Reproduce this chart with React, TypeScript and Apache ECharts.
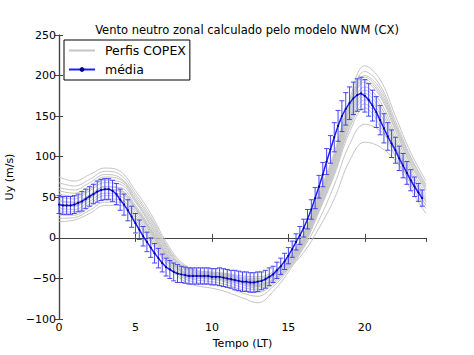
import React, { useEffect, useRef } from "react";
import * as echarts from "echarts";

const TITLE = "Vento neutro zonal calculado pelo modelo NWM (CX)";
const X_LABEL = "Tempo (LT)";
const Y_LABEL = "Uy (m/s)";
const X_TICKS = [0, 5, 10, 15, 20];
const Y_TICKS = [-100, -50, 0, 50, 100, 150, 200, 250];

// mean profile sampled every 0.25 h (0 .. 23.75)
const MEAN_STEP = 0.25;
const meanValues = [
  41, 40, 40, 40, 41, 43, 45, 48,
  51, 54, 57, 59, 60, 60, 58, 54,
  47, 41, 34, 26, 18, 10, 2, -5,
  -12, -19, -25, -31, -36, -39, -42, -44,
  -45, -46, -47, -47, -47, -47, -47, -47,
  -48, -48, -48, -49, -50, -51, -52, -53,
  -54, -54, -55, -55, -54, -53, -51, -48,
  -45, -40, -35, -29, -22, -14, -5, 3,
  12, 23, 35, 49, 63, 78, 94, 109,
  124, 138, 150, 159, 166, 172, 176, 178,
  175, 170, 163, 155, 145, 135, 125, 116,
  108, 98, 89, 80, 71, 63, 56, 49,
];
const stdValues = [
  11, 11, 11, 11, 11, 11, 12, 12,
  12, 12, 13, 13, 13, 13, 13, 13,
  13, 13, 13, 13, 12, 12, 12, 12,
  12, 12, 12, 11, 11, 11, 11, 11,
  10, 10, 10, 10, 10, 10, 10, 10,
  10, 10, 11, 11, 11, 11, 12, 12,
  12, 12, 12, 12, 12, 11, 11, 11,
  10, 10, 10, 10, 10, 10, 10, 11,
  11, 12, 12, 13, 14, 15, 16, 17,
  18, 19, 19, 20, 20, 20, 20, 20,
  20, 20, 19, 19, 18, 18, 17, 17,
  16, 15, 15, 14, 13, 12, 11, 10,
];

// individual COPEX profiles, hourly 0..24
const profileHours = [0,1,2,3,4,5,6,7,8,9,10,11,12,13,14,15,16,17,18,19,20,21,22,23,24];
const profile01 = [75, 70, 78, 86, 82, 58, 30, -5, -30, -40, -42, -44, -47, -48, -42, -25, 5, 55, 105, 170, 212, 195, 150, 105, 70];
const profile02 = [68, 64, 72, 82, 78, 54, 26, -8, -32, -41, -43, -45, -49, -50, -44, -27, 3, 52, 102, 166, 205, 188, 144, 100, 66];
const profile03 = [58, 55, 64, 75, 72, 48, 20, -12, -35, -43, -45, -47, -51, -53, -46, -29, 0, 48, 98, 160, 198, 180, 138, 95, 62];
const profile04 = [50, 48, 58, 68, 66, 44, 15, -16, -38, -45, -46, -49, -53, -56, -48, -30, -2, 46, 95, 156, 192, 174, 132, 90, 58];
const profile05 = [45, 43, 52, 63, 62, 40, 12, -18, -40, -46, -47, -50, -55, -58, -50, -31, -3, 44, 92, 152, 186, 168, 127, 86, 54];
const profile06 = [40, 39, 48, 59, 58, 37, 9, -20, -41, -47, -48, -51, -56, -60, -52, -33, -4, 42, 90, 148, 182, 163, 122, 82, 50];
const profile07 = [36, 35, 45, 55, 54, 34, 6, -22, -42, -48, -50, -53, -58, -62, -53, -34, -5, 40, 88, 145, 178, 158, 118, 78, 47];
const profile08 = [32, 32, 42, 52, 51, 31, 4, -24, -44, -50, -51, -55, -61, -64, -55, -35, -6, 38, 85, 142, 174, 153, 114, 74, 44];
const profile09 = [28, 28, 38, 48, 47, 28, 1, -26, -46, -52, -54, -58, -64, -67, -57, -37, -7, 36, 82, 138, 170, 148, 110, 70, 40];
const profile10 = [24, 25, 34, 44, 44, 25, -2, -28, -48, -55, -57, -61, -68, -72, -60, -39, -9, 34, 80, 135, 165, 143, 105, 66, 36];
const profile11 = [20, 22, 30, 40, 40, 22, -5, -31, -51, -59, -62, -67, -74, -80, -66, -42, -11, 32, 77, 130, 160, 138, 100, 60, 30];
const profile12 = [46, 44, 53, 63, 60, 38, 10, -19, -40, -47, -48, -51, -55, -57, -52, -38, -18, 12, 48, 95, 118, 112, 95, 70, 40];
const profile13 = [42, 40, 49, 60, 57, 36, 8, -21, -42, -48, -49, -52, -56, -59, -52, -35, -12, 22, 65, 115, 140, 132, 110, 78, 45];
const profile14 = [62, 59, 68, 78, 74, 51, 23, -10, -34, -42, -44, -46, -50, -52, -45, -28, 2, 50, 100, 163, 200, 184, 140, 98, 64];
const profile15 = [54, 51, 60, 71, 69, 46, 17, -14, -36, -44, -45, -48, -52, -54, -47, -29, 0, 47, 96, 158, 195, 177, 135, 92, 60];
const profiles = [profile01, profile02, profile03, profile04, profile05, profile06, profile07, profile08, profile09, profile10, profile11, profile12, profile13, profile14, profile15];

const FONT = "DejaVu Sans";
const fmtMinus = (v: number) => String(v).replace("-", "\u2212");

export default function App() {
  const ref = useRef<HTMLDivElement>(null);
  useEffect(() => {
    if (!ref.current) return;
    const chart = echarts.init(ref.current, null, { renderer: "svg" });
    const meanData = meanValues.map((v, i) => [i * MEAN_STEP, v]);
    const errData = meanValues.map((v, i) => [i * MEAN_STEP, v - stdValues[i], v + stdValues[i]]);
    const axisLine = { show: true, lineStyle: { color: "#444", width: 1.2 } };
    const grayPlain: any[] = profiles.map((p) => ({
      name: "Perfis COPEX",
      type: "line",
      data: p.map((v, i) => [profileHours[i], v]),
      smooth: 0.4,
      symbol: "none",
      lineStyle: { color: "#c4c4c4", width: 1 },
      itemStyle: { color: "#c4c4c4" },
      z: 1,
    }));
    chart.setOption({
      animation: false,
      textStyle: { fontFamily: FONT },
      title: {
        text: TITLE,
        left: 242,
        textAlign: "center",
        top: 19,
        textStyle: { fontFamily: FONT, fontSize: 11.5, fontWeight: "normal", color: "#000" },
      },
      legend: {
        data: [
          { name: "Perfis COPEX", itemStyle: { opacity: 0 } },
          { name: "média" },
        ],
        orient: "vertical",
        left: 64,
        top: 40,
        itemWidth: 26,
        itemHeight: 6,
        itemGap: 6,
        padding: [4, 4, 4, 4],
        borderColor: "#000",
        borderWidth: 1,
        textStyle: { fontFamily: FONT, fontSize: 12.5, color: "#000", padding: [0, 0, 0, 5] },
      },
      grid: { left: 59, right: 48, top: 35, bottom: 36, outerBoundsMode: "none" },
      xAxis: [
        {
          type: "value", min: 0, max: 24, interval: 5, position: "bottom",
          name: X_LABEL, nameLocation: "middle", nameGap: 13,
          nameTextStyle: { fontFamily: FONT, fontSize: 11, color: "#000" },
          axisLine, splitLine: { show: false },
          axisTick: { inside: true, length: 4, lineStyle: { color: "#444" } },
          axisLabel: { fontFamily: FONT, fontSize: 11, color: "#000", margin: 3, showMaxLabel: false,
            formatter: (v: number) => (X_TICKS.includes(v) ? String(v) : "") },
        },
        {
          type: "value", min: 0, max: 24, interval: 5, position: "top",
          axisLine, splitLine: { show: false },
          axisTick: { inside: true, length: 4, lineStyle: { color: "#444" } },
          axisLabel: { show: false },
        },
      ],
      yAxis: [
        {
          type: "value", min: -100, max: 250, interval: 50, position: "left",
          name: Y_LABEL, nameLocation: "middle", nameGap: 29, nameRotate: 90,
          nameTextStyle: { fontFamily: FONT, fontSize: 11, color: "#000" },
          axisLine, splitLine: { show: false },
          axisTick: { inside: true, length: 4, lineStyle: { color: "#444" } },
          axisLabel: { fontFamily: FONT, fontSize: 11, color: "#000", margin: 3,
            formatter: (v: number) => (Y_TICKS.includes(v) ? fmtMinus(v) : "") },
        },
        {
          type: "value", min: -100, max: 250, interval: 50, position: "right",
          axisLine, splitLine: { show: false },
          axisTick: { inside: true, length: 4, lineStyle: { color: "#444" } },
          axisLabel: { show: false },
        },
      ],
      series: [
        ...grayPlain,
        {
          name: "erro",
          type: "custom",
          data: errData,
          z: 2,
          renderItem: (params: any, api: any) => {
            const x = api.value(0);
            const lo = api.coord([x, api.value(1)]);
            const hi = api.coord([x, api.value(2)]);
            const c = 2.5;
            const style = { stroke: "#3535f5", lineWidth: 1, opacity: 0.9 };
            return {
              type: "group",
              children: [
                { type: "line", shape: { x1: lo[0], y1: lo[1], x2: hi[0], y2: hi[1] }, style },
                { type: "line", shape: { x1: lo[0] - c, y1: lo[1], x2: lo[0] + c, y2: lo[1] }, style },
                { type: "line", shape: { x1: hi[0] - c, y1: hi[1], x2: hi[0] + c, y2: hi[1] }, style },
              ],
            };
          },
        },
        {
          name: "média",
          type: "line",
          data: meanData,
          symbol: "circle",
          symbolSize: 2,
          lineStyle: { color: "#1f1ff5", width: 1.5 },
          itemStyle: { color: "#00008b" },
          z: 3,
        },
      ],
    });
    return () => chart.dispose();
  }, []);
  return <div ref={ref} style={{ width: 474, height: 355, position: "absolute", left: 0, top: 0, background: "#fff" }} />;
}
